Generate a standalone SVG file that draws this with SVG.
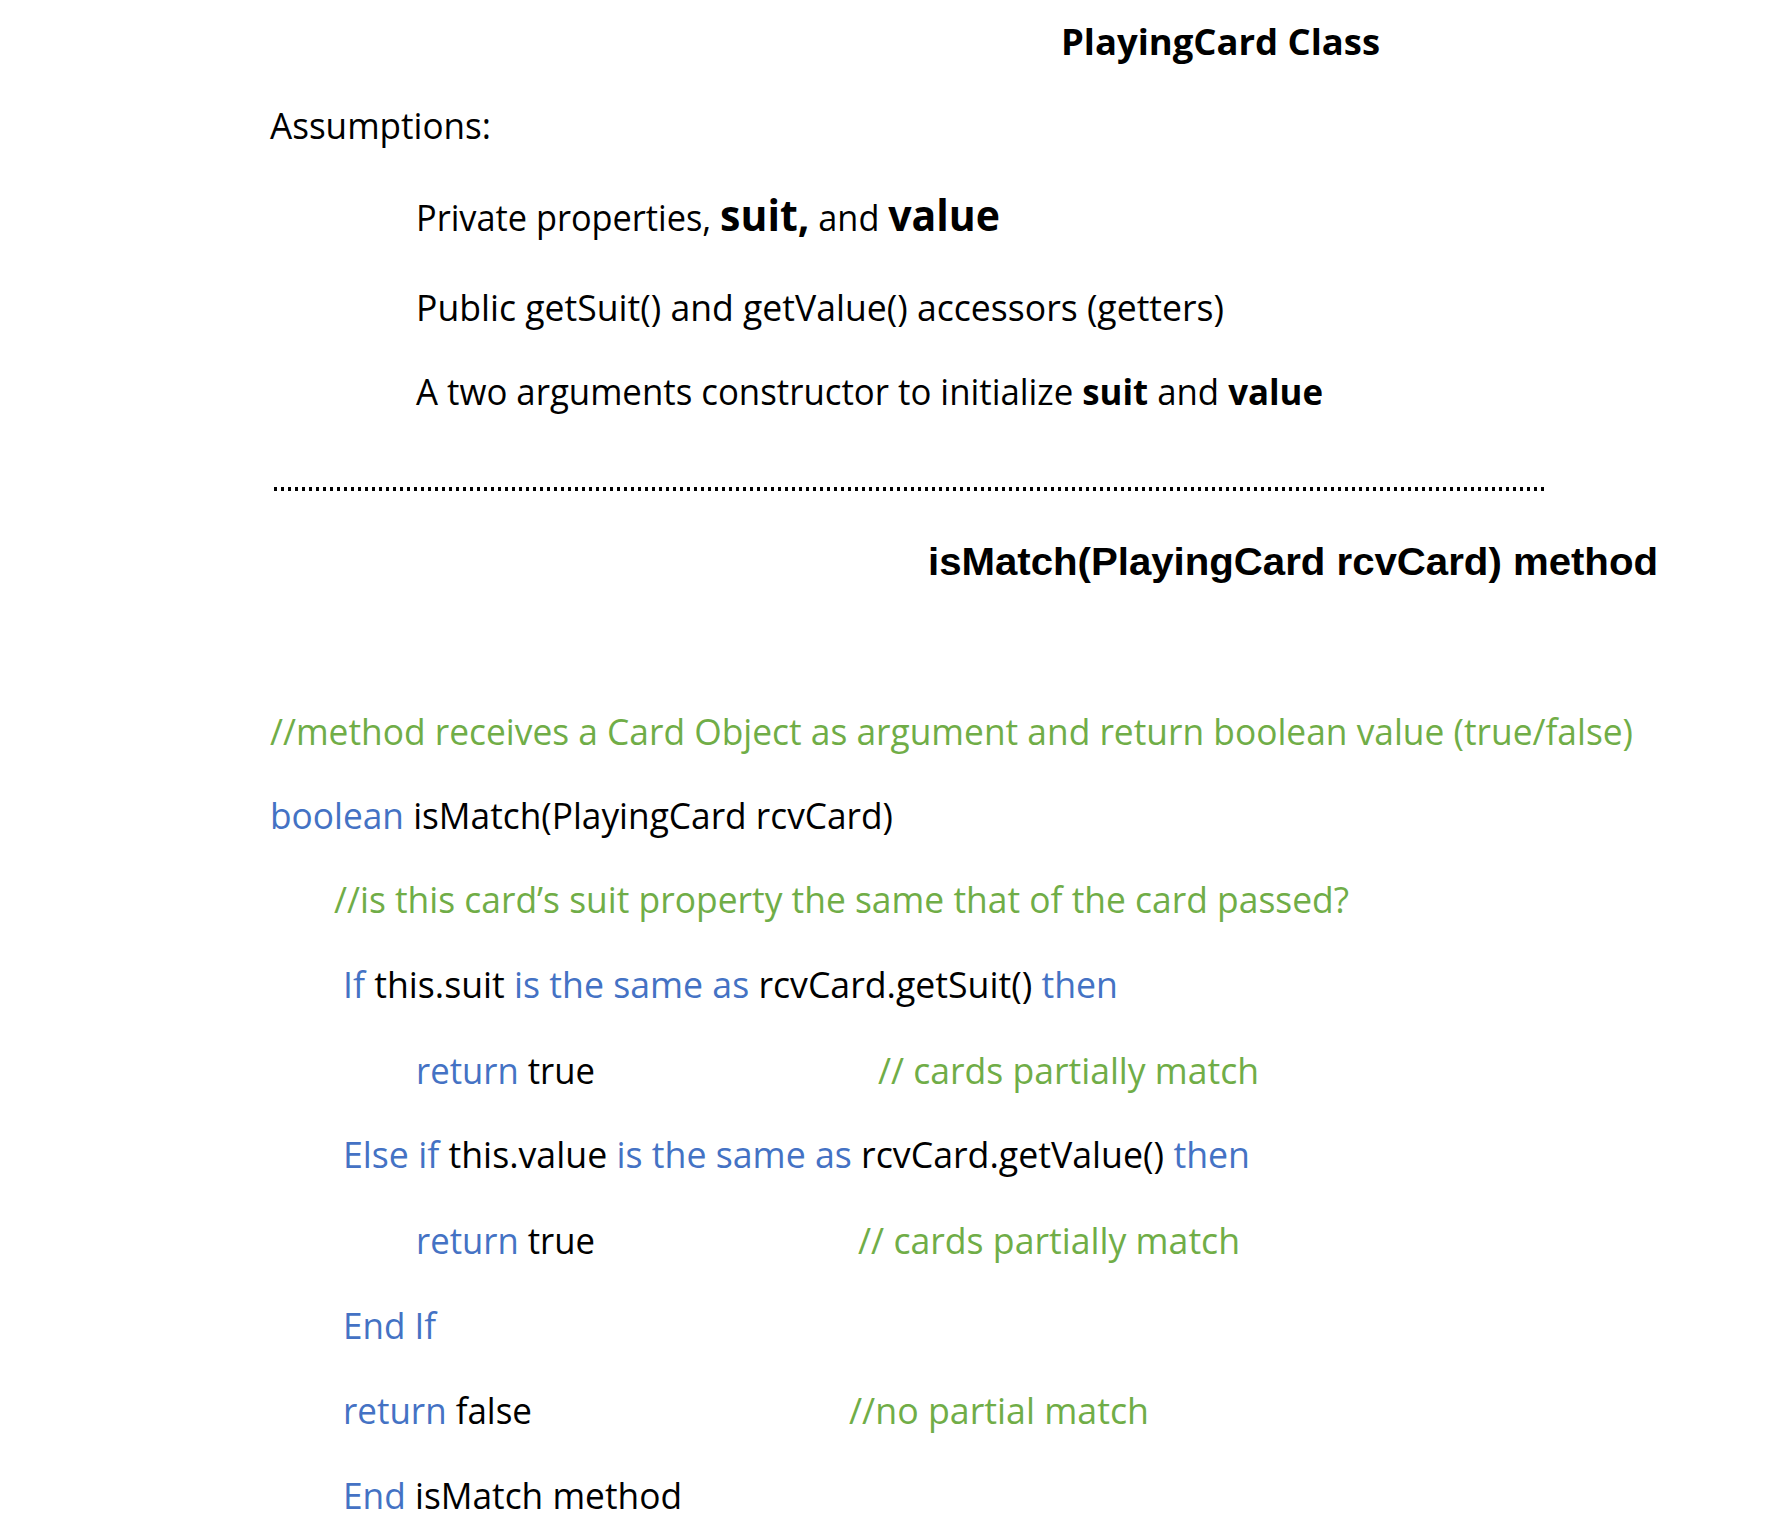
<svg xmlns="http://www.w3.org/2000/svg" width="1773" height="1537" viewBox="0 0 1773 1537">
<style>
text{font-family:"Open Sans","Liberation Sans",sans-serif;font-size:36px;fill:#000}
.b{font-weight:bold}
.k{fill:#4472C4}
.c{fill:#70AD47}
.h{font-family:"Liberation Sans",Arial,sans-serif;font-weight:bold;font-size:38px}
</style>
<rect width="1773" height="1537" fill="#fff"/>
<g transform="translate(-4,-3)">
<g id="header">
<text x="1065" y="58" class="b" textLength="319" lengthAdjust="spacingAndGlyphs">PlayingCard Class</text>
<text x="274" y="142" textLength="221" lengthAdjust="spacingAndGlyphs">Assumptions:</text>
<text x="420" y="234" textLength="584" lengthAdjust="spacingAndGlyphs">Private properties, <tspan class="b" font-size="43">suit,</tspan> and <tspan class="b" font-size="43">value</tspan></text>
<text x="420" y="324" textLength="808" lengthAdjust="spacingAndGlyphs">Public getSuit() and getValue() accessors (getters)</text>
<text x="420" y="408" textLength="907" lengthAdjust="spacingAndGlyphs">A two arguments constructor to initialize <tspan class="b">suit</tspan> and <tspan class="b">value</tspan></text>
<line x1="278" y1="492" x2="1550" y2="492" stroke="#000" stroke-width="4" stroke-dasharray="3 4"/>
<text x="932" y="578" class="h" textLength="730" lengthAdjust="spacingAndGlyphs">isMatch(PlayingCard rcvCard) method</text>
</g>
<g id="code">
<text x="274" y="748" class="c" textLength="1363" lengthAdjust="spacingAndGlyphs">//method receives a Card Object as argument and return boolean value (true/false)</text>
<text x="274" y="832" textLength="623" lengthAdjust="spacingAndGlyphs"><tspan class="k">boolean</tspan> isMatch(PlayingCard rcvCard)</text>
<text x="338" y="916" class="c" textLength="1015" lengthAdjust="spacingAndGlyphs">//is this card’s suit property the same that of the card passed?</text>
<text x="347" y="1001" textLength="775" lengthAdjust="spacingAndGlyphs"><tspan class="k">If</tspan> this.suit <tspan class="k">is the same as</tspan> rcvCard.getSuit()  <tspan class="k">then</tspan></text>
<text x="420" y="1087" textLength="179" lengthAdjust="spacingAndGlyphs"><tspan class="k">return</tspan> true</text>
<text x="882" y="1087" class="c" textLength="381" lengthAdjust="spacingAndGlyphs">// cards partially match</text>
<text x="347" y="1171" textLength="907" lengthAdjust="spacingAndGlyphs"><tspan class="k">Else if</tspan> this.value  <tspan class="k">is the same as</tspan> rcvCard.getValue() <tspan class="k">then</tspan></text>
<text x="420" y="1257" textLength="179" lengthAdjust="spacingAndGlyphs"><tspan class="k">return</tspan> true</text>
<text x="862" y="1257" class="c" textLength="382" lengthAdjust="spacingAndGlyphs">// cards partially match</text>
<text x="347" y="1342" class="k" textLength="93" lengthAdjust="spacingAndGlyphs">End If</text>
<text x="347" y="1427" textLength="189" lengthAdjust="spacingAndGlyphs"><tspan class="k">return</tspan> false</text>
<text x="853" y="1427" class="c" textLength="300" lengthAdjust="spacingAndGlyphs">//no partial match</text>
<text x="347" y="1512" textLength="339" lengthAdjust="spacingAndGlyphs"><tspan class="k">End</tspan> isMatch method</text>
</g>
</g>
</svg>
